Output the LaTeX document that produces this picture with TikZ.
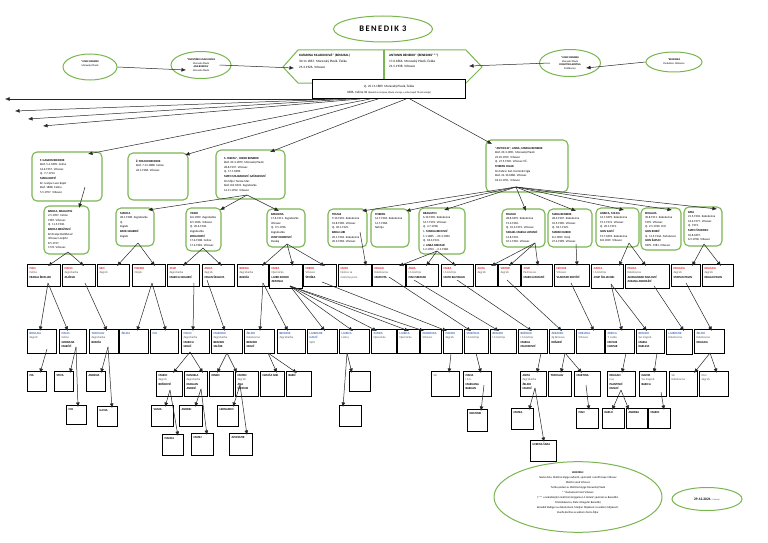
\documentclass[tikz,border=0pt]{standalone}
\usepackage{fontspec}
\setmainfont{Carlito}
\usetikzlibrary{shapes.geometric,arrows.meta}
\definecolor{gline}{RGB}{122,182,80}
\definecolor{nred}{RGB}{235,30,30}
\definecolor{nblue}{RGB}{68,114,196}
\definecolor{ngray}{RGB}{85,85,85}
\newcommand\boxfont{\fontsize{3.0}{4.6}\selectfont}
\newcommand\xrn[1]{{\color{nred}\bfseries #1}}
\newcommand\xbn[1]{{\color{nblue}\bfseries #1}}
\newcommand\xpl[1]{{\color{ngray}#1}}
\newcommand\xsp[1]{{\bfseries #1}}
% name, style, x1, y1, x2, y2, left inset, first baseline, text
\newcommand\bx[9]{\node[#2,anchor=north west,inner sep=0pt,outer sep=0pt] (#1) at (#3,#4)
 {\parbox[c][\dimexpr#6pt-#4pt\relax][t]{\dimexpr#5pt-#3pt\relax}{\boxfont\raggedright\leftskip=#7pt\relax\rule{0pt}{#8pt}#9\par}};}
\newcommand\ar[5]{\draw[arr] ([xshift=#2pt,yshift=#3pt]#1.south west) -- ([xshift=#5pt,yshift=-2pt]#4.north west);}
\tikzset{
 bbox/.style={draw=black,line width=1pt,fill=white},
 gbox/.style={draw=gline,line width=1.1pt,rounded corners=5pt,fill=white},
 gell/.style={ellipse,draw=gline,line width=1pt,inner sep=0pt,fill=white},
 arr/.style={-{Latex[length=4.5pt,width=3.8pt]},line width=0.5pt,draw=black!85},
 tiny/.style={font=\fontsize{2.6}{3.6}\selectfont,align=center}
}
\begin{document}
\begin{tikzpicture}[x=1pt,y=-1pt]
\useasboundingbox (0,0) rectangle (768,543);
\fill[white] (0,0) rectangle (768,543);
% title
\node[gell,minimum width=99pt,minimum height=26pt,font=\bfseries\fontsize{8.5}{10}\selectfont] (title) at (383,29) {B\,E\,N\,E\,D\,I\,K\, 3};
% ancestors
\node[gell,tiny,minimum width=54pt,minimum height=26pt] (e1) at (90,67) {\textbf{*JOSEF BENEDIK}\\Moravský Plavík\\[3pt]};
\node[gell,tiny,minimum width=60pt,minimum height=27pt] (e2) at (201,65) {\textbf{*FRANTIŠEK MLADUNOVA}\\Moravski Plavík\\\textbf{ANA BUBICEV}\\Moravski Plavík};
\node[gell,tiny,minimum width=61pt,minimum height=27pt] (e3) at (570,63) {\textbf{*JOSEF BENEDIK}\\Moravski Plavík\\\textbf{FRANTIŠKA BOŽINA}\\Poličkovice};
\node[gell,tiny,minimum width=56pt,minimum height=20pt] (e4) at (674,62) {\textbf{*BENEDIKA}\\Pardubice, Mikovice};
% couple hexagon
\draw[draw=gline,line width=1pt,fill=white] (283,67) -- (298,50) -- (466,50) -- (482,67) -- (466,83) -- (298,83) -- cycle;
\draw[draw=gline,line width=1.3pt] (384,50) -- (384,80);
\node[anchor=north west,inner sep=0pt,align=left,font=\fontsize{3.3}{5.6}\selectfont] (hexL) at (299,54)
 {\textbf{KATARINA MLADUNOVÁ* (BENURAL)}\\30.11.1867. Moravský Plavík, Češka\\25.3.1926. Vrbovec};
\node[anchor=north west,inner sep=0pt,align=left,font=\fontsize{3.3}{5.6}\selectfont] (hexR) at (389,54)
 {\textbf{ANTONIN BENEDIK* (BENEDIKS***)}\\17.6.1866. Moravský Plavík, Češka\\21.5.1938. Vrbovec};
\coordinate (hexLin) at (294,68);
\coordinate (hexRin) at (469,66);
\coordinate (e2in) at (186,70);
\coordinate (e3in) at (586,68);
\node[bbox,anchor=north west,minimum width=153pt,minimum height=19pt,inner sep=0pt,align=center,font=\fontsize{3.2}{6}\selectfont] (mar) at (312,79)
 {Vj. 25.11.1889. Moravský Plavík, Češka\\1886. Celine 32 {\fontsize{2.5}{4}\selectfont (doselili su iz Ajeva, Kloda, s konja, s roba, kupili 70 rali zemlje)}};
% off-picture children
\coordinate (offA) at (5,99);
\coordinate (offB) at (15,111);
\coordinate (offC) at (28,119);
\coordinate (offD) at (43,126);
% row 1
\bx{g1a}{gbox}{32}{152}{102}{201}{8}{9}{\xsp{F. GAGDIN BENEDIK}\\Rođ. 5.4.1890. Celine\\16.6.1957. Vrbovec\\Vj. 7.7.1914.\\\xsp{MARA KOPIĆ}\\Kć. Ivanjac Luce Kopić\\Rođ. 1888. Celine\\5.5.1957. Vrbovec}
\bx{g1b}{gbox}{128}{153}{188}{200}{8}{9}{\xsp{Ž. FRANJO BENEDIK}\\Rođ. 7.12.1888. Celine\\26.1.1968. Vrbovec}
\bx{g1c}{gbox}{216}{150}{285}{199}{8}{9}{\xsp{S. JOSEFA*, JOSIPA BENEDIK}\\Rođ. 20.3.1879. Moravský Plavík\\28.8.1937. Vrbovec\\Vj. 17.7.1898.\\\xsp{MATO MAJDAKOVIĆ GAŠPAROVIĆ}\\Sin Mije i Tereze Mar.\\Rođ. 8.8.1876. Zagrebačka\\14.11.1952. Vrbovec}
\bx{g1d}{gbox}{486}{140}{568}{192}{9}{9}{\xsp{*ANTONIJA*, ANNA, MARIJA BENEDIK}\\Rođ. 20.3.1891. Moravský Plavík\\22.10.1959. Vrbovec\\Vj. 27.5.1905. Vrbovec VČ.\\\xsp{STJEPAN CIGAK}\\Sin Fabra i Kat. Dominik Cigla\\Rođ. 24.10.1880. Vrbovec\\18.12.1951. Vrbovec}
% row 2
\bx{g2a}{gbox}{44}{206}{89}{254}{4}{6}{\xsp{BARICA, DRAGUTIN}\\2.5.1907. Celine\\1987. Vrbovec\\Vj. 11.5.1930.\\\xsp{BARICA BROŽOVIĆ}\\Kći Franje Božičković\\Vrbovec Lonjički\\8.5.1917.\\1776. Vrbovec}
\bx{g2b}{gbox}{116}{208}{154}{246}{4}{6}{\xsp{MARICA}\\28.1.1908. Zagrebačka\\Vj.\\Zagreb\\\xsp{RADE GRABRIĆ}\\Zagreb}
\bx{g2c}{gbox}{186}{208}{221}{251}{4}{6}{\xsp{VINKO}\\8.6.1909. Zagrebačka\\8.5.1966. Vrbovec\\Vj. 20.6.1936.\\Zagrebačka\\\xsp{ZORA KOPIĆ}\\17.6.1908. Celine\\17.2.1981. Vrbovec}
\bx{g2d}{gbox}{267}{209}{305}{247}{4}{6}{\xsp{KATARINA}\\17.6.1911. Zagrebačka\\Vrbovec\\Vj. 9.5.1936.\\Zagrebačka\\\xsp{JOSIP DUBROVIĆ}\\Dvokaj}
\bx{g2e}{gbox}{328}{209}{367}{247}{4}{6}{\xsp{TOMAS}\\9.10.1901. Kokotovina\\10.8.1989. Vrbovec\\Vj. 20.1.1925.\\\xsp{BARA LUBI}\\20.1.1903. Kokotovina\\20.3.1983. Vrbovec}
\bx{g2f}{gbox}{371}{209}{409}{247}{4}{6}{\xsp{STJEPAN}\\16.7.1903. Kokotovina\\14.7.1968.\\Nehrija}
\bx{g2g}{gbox}{419}{208}{465}{254}{4}{6}{\xsp{DRAGUTIN}\\6.10.1905. Kokotovina\\16.7.1993. Vrbovec\\Vj. 4.7.1938.\\1. \xsp{MARIJA BENOVIĆ}\\1.1.1885. -- 20.3.1983.\\Vj. 18.3.1931.\\2. \xsp{ANKA SREMAR}\\1.2.1903. -- 2.1.1986.}
\bx{g2h}{gbox}{502}{209}{545}{247}{4}{6}{\xsp{FRANJO}\\28.8.1895. Kokotovina\\19.3.1965.\\Vj. 10.3.1919. Vrbovec\\\xsp{MIHAEL MARIJA LOTANIĆ}\\14.8.1901.\\10.1.1965. Vrbovec}
\bx{g2i}{gbox}{548}{209}{592}{247}{4}{6}{\xsp{MARA BENEDIK}\\28.3.1907. Kokotovina\\10.5.1985. Vrbovec\\Vj. 18.7.1925.\\\xsp{MARKO KUBER}\\8.4.1899. Ozalj\\27.4.1989. Vrbovec}
\bx{g2j}{gbox}{596}{208}{639}{247}{4}{6}{\xsp{ANKICA, MILICA}\\16.7.1899. Kokotovina\\19.1.1974. Vrbovec\\Vj. 20.1.1919.\\\xsp{IVAN SAVIĆ}\\19.7.1893. Kokotovina\\8.8.1969. Vrbovec}
\bx{g2k}{gbox}{641}{208}{681}{250}{4}{6}{\xsp{ROSALIJA}\\30.8.1911. Kokotovina\\1995. Vrbovec\\Vj. 2.5.1930. Križ\\\xsp{IVAN BOBIĆ}\\Vj. 12.5.1946. Farkaševac\\\xsp{IVAN ŠAPUN}\\1899. 1981. Vrbovec}
\bx{g2l}{gbox}{684}{207}{722}{246}{4}{6}{\xsp{KATA}\\21.5.1902. Kokotovina\\16.2.1977. Vrbovec\\Vj. 1919.\\\xsp{MATO ŠTURMEC}\\10.8.1897.\\6.9.1958. Vrbovec}
% row 3
\bx{r3a}{bbox}{27}{264}{60}{286}{2.5}{5}{\xrn{IVAN}\\\xpl{Celine}\\\xsp{FRANJA ŽEMLJAK}}
\bx{r3b}{bbox}{62}{264}{95}{286}{2.5}{5}{\xrn{IVANO}\\\xpl{Zagrebačka}\\\xsp{ZAJČEVA}}
\bx{r3c}{bbox}{97}{264}{129}{286}{2.5}{5}{\xrn{ERO}\\\xpl{Zagreb}}
\bx{r3d}{bbox}{132}{264}{165}{286}{2.5}{5}{\xrn{IVANKO}\\\xpl{Osijek}}
\bx{r3e}{bbox}{167}{264}{199}{286}{2.5}{5}{\xrn{JOSIP}\\\xpl{Zagrebačka}\\\xsp{MARICA GRGURIĆ}}
\bx{r3f}{bbox}{202}{264}{234}{286}{2.5}{5}{\xrn{ANICA}\\\xpl{Zagreb}\\\xsp{MILAN ŠEGULTA}}
\bx{r3g}{bbox}{237}{264}{268}{286}{2.5}{5}{\xrn{BORISA}\\\xpl{Zagrebačka}\\\xsp{BUĐIĆA}}
\bx{r3h}{bbox}{269}{264}{302}{288}{2.5}{5}{\xrn{MARA}\\\xpl{Njemačka}\\\xsp{LJUBO BOCKO}\\\xsp{ZIMONJA}}
\bx{r3i}{bbox}{303}{264}{336}{286}{2.5}{5}{\xrn{MIRKO}\\\xpl{Vrbovec}\\\xsp{ŠPOŠKA}}
\bx{r3j}{bbox}{338}{264}{371}{286}{2.5}{5}{\xrn{MATO}\\\xpl{Nemce za}\\\xpl{možemo poro}}
\bx{r3k}{bbox}{372}{264}{405}{286}{2.5}{5}{\xrn{DRAGO}\\\xpl{Kokotovina}\\\xsp{MAMOTA}}
\bx{r3l}{bbox}{406}{264}{438}{286}{2.5}{5}{\xrn{ANKA}\\\xpl{I.S.Andrija}\\\xsp{IVAN SREMAR}}
\bx{r3m}{bbox}{441}{264}{473}{286}{2.5}{5}{\xrn{MARA}\\\xpl{I.S.Andrija}\\\xsp{MATO BAJTAKAN}}
\bx{r3n}{bbox}{475}{264}{497}{286}{2.5}{5}{\xrn{ZLATA}\\\xpl{Zagreb}}
\bx{r3o}{bbox}{498}{264}{520}{286}{2.5}{5}{\xrn{VIKTOR}\\\xpl{Zagreb}}
\bx{r3p}{bbox}{521}{264}{552}{286}{2.5}{5}{\xrn{JOSIP}\\\xpl{Pavlinovac}\\\xsp{MARICA RUSMIĆ}}
\bx{r3q}{bbox}{554}{264}{589}{286}{2.5}{5}{\xrn{HRVOJE}\\\xpl{Vrbovec}\\\xsp{VLADIMIR KOPIČIĆ}}
\bx{r3r}{bbox}{591}{264}{623}{288}{2.5}{5}{\xrn{JURICA}\\\xpl{I.S.Andrija}\\\xsp{JOSIP ŠOLJANSKI}}
\bx{r3s}{bbox}{625}{264}{669}{288}{2.5}{5}{\xrn{PAVICA}\\\xpl{Kokotovina}\\\xsp{ALEKSANDAR PAVLOVIĆ}\\\xsp{ZUZANA ANDRAŠIĆ}}
\bx{r3t}{bbox}{671}{264}{700}{286}{2.5}{5}{\xrn{DRAGICA}\\\xpl{Zagreb}\\\xsp{STJEPAN PAVIN}}
\bx{r3u}{bbox}{702}{264}{733}{286}{2.5}{5}{\xrn{DRAGICA}\\\xpl{Zagreb}\\\xsp{DRAGO PAVIN}}
% row 4
\bx{r4a}{bbox}{27}{329}{56}{353}{2.5}{5}{\xbn{BOSILJKA}\\\xpl{Zagreb}}
\bx{r4b}{bbox}{59}{329}{86}{353}{2.5}{5}{\xbn{IVANO}\\\xpl{Celine}\\\xsp{GORDANA}\\\xsp{MARČIĆ}}
\bx{r4c}{bbox}{89}{329}{118}{353}{2.5}{5}{\xbn{TOMISLAV}\\\xpl{Zagrebačka}\\\xsp{BUĐIĆA}}
\bx{r4d}{bbox}{119}{329}{148}{353}{2.5}{5}{\xbn{ŽELJKA}}
\bx{r4e}{bbox}{150}{329}{178}{353}{2.5}{5}{\xbn{IVO}}
\bx{r4f}{bbox}{181}{329}{209}{353}{2.5}{5}{\xbn{IVANO}\\\xpl{Zagrebačka}\\\xsp{MARICA}\\\xsp{GRGIĆ}}
\bx{r4g}{bbox}{211}{329}{242}{353}{2.5}{5}{\xbn{MARINKO}\\\xpl{Zagrebačka}\\\xsp{BRANKO}\\\xsp{SALČEK}}
\bx{r4h}{bbox}{244}{329}{274}{353}{2.5}{5}{\xbn{ŽELJKO}\\\xpl{Kokotovina}\\\xsp{BRANKO}\\\xsp{GRGIĆ}}
\bx{r4i}{bbox}{277}{329}{305}{353}{2.5}{5}{\xbn{BENEDIK}\\\xpl{Zagrebačka}}
\bx{r4j}{bbox}{307}{329}{337}{353}{2.5}{5}{\xbn{LJUBOMIR}\\\xbn{LUKAČ}\\\xpl{Split}}
\bx{r4k}{bbox}{339}{329}{369}{353}{2.5}{5}{\xbn{LJUBICA}\\\xpl{Lošinj}}
\bx{r4l}{bbox}{371}{329}{396}{353}{2.5}{5}{\xbn{Z.MIRA}\\\xpl{Njemačka}}
\bx{r4m}{bbox}{397}{329}{419}{353}{2.5}{5}{\xbn{LJUBICA}\\\xpl{Njemačka}}
\bx{r4n}{bbox}{420}{329}{441}{353}{2.5}{5}{\xbn{DUBRAVKA}\\\xpl{Vrbovec}}
\bx{r4o}{bbox}{443}{329}{462}{353}{2.5}{5}{\xbn{IVANKO}\\\xpl{Zagreb}}
\bx{r4p}{bbox}{464}{329}{488}{353}{2.5}{5}{\xbn{SNJEŽANA}\\\xpl{I.S.Andrija}}
\bx{r4q}{bbox}{490}{329}{516}{353}{2.5}{5}{\xbn{BRANKO}\\\xpl{I.S.Andrija}}
\bx{r4r}{bbox}{518}{329}{547}{353}{2.5}{5}{\xbn{BOŽIDAR}\\\xpl{I.S.Andrija}\\\xsp{MARIJA}\\\xsp{MAJOROVIĆ}}
\bx{r4s}{bbox}{549}{329}{574}{353}{2.5}{5}{\xbn{ZDRAVKO}\\\xpl{Zg.Brezovo}\\\xsp{KOŠARIĆ}}
\bx{r4t}{bbox}{576}{329}{604}{353}{2.5}{5}{\xbn{MIRJANA}\\\xpl{Vrbovec}}
\bx{r4u}{bbox}{605}{329}{634}{353}{2.5}{5}{\xbn{ZORICA}\\\xpl{T. Lučko}\\\xsp{HRVOJE}\\\xsp{HASPAR}}
\bx{r4v}{bbox}{636}{329}{664}{353}{2.5}{5}{\xbn{BRANKO}\\\xpl{Sv.I.Zagreb}\\\xsp{MARIA}\\\xsp{KARLINA}}
\bx{r4w}{bbox}{666}{329}{692}{354}{2.5}{5}{\xbn{LJUBOMIR}\\\xpl{Kokotovina}}
\bx{r4x}{bbox}{694}{329}{724}{353}{2.5}{5}{\xbn{ŽELJKO}\\\xpl{Kokotovina}\\\xsp{DRAGICA}}
% row 5
\bx{r5a}{bbox}{27}{371}{46}{391}{2.5}{5}{\xsp{IVA}}
\bx{r5b}{bbox}{54}{371}{73}{391}{2.5}{5}{\xsp{STIVA}}
\bx{r5c}{bbox}{86}{371}{105}{391}{2.5}{5}{\xsp{ANDRIJA}}
\bx{r5d}{bbox}{156}{371}{182}{396}{2.5}{5}{\xsp{MARIO}\\\xpl{Zagreb}\\\xsp{BOŠKOVIĆ}}
\bx{r5e}{bbox}{184}{371}{207}{396}{2.5}{5}{\xsp{DANIJELA}\\\xpl{Zagrebačka}\\\xsp{DUBLJAN}\\\xsp{ANDRIĆ}}
\bx{r5f}{bbox}{209}{371}{233}{396}{2.5}{5}{\xsp{DINKO}}
\bx{r5g}{bbox}{235}{371}{258}{396}{2.5}{5}{\xsp{MATKO}\\\xpl{Zagreb}\\\xsp{ANA}\\\xsp{ŠANDOR}}
\bx{r5h}{bbox}{260}{371}{284}{396}{2.5}{5}{\xsp{NATAŠA NIKI}}
\bx{r5i}{bbox}{286}{371}{311}{396}{2.5}{5}{\xsp{BABIĆ}}
\bx{r5j}{bbox}{349}{371}{370}{391}{2.5}{5}{}
\bx{r5k}{bbox}{431}{371}{459}{396}{2.5}{5}{\xpl{Sin}}
\bx{r5l}{bbox}{463}{371}{491}{396}{2.5}{5}{\xsp{IVANA}\\\xpl{I.S.A.}\\\xsp{MARIJANA}\\\xsp{BABIJAN}}
\bx{r5m}{bbox}{520}{371}{546}{396}{2.5}{5}{\xsp{ANITA}\\\xpl{Zagrebačka}\\\xsp{ŽELJKO}\\\xsp{MAMIĆ}}
\bx{r5n}{bbox}{548}{371}{571}{396}{2.5}{5}{\xsp{TOMISLAV}}
\bx{r5o}{bbox}{574}{371}{600}{396}{2.5}{5}{\xsp{MARTINA}}
\bx{r5p}{bbox}{607}{371}{635}{396}{2.5}{5}{\xsp{DRAGAN}\\\xpl{Ivaj}\\\xsp{PLANTINIĆ}\\\xsp{DUNJIĆ}}
\bx{r5q}{bbox}{639}{371}{666}{396}{2.5}{5}{\xsp{DAVOR}\\\xpl{Sv.I.Zagreb}\\\xsp{BARICA}}
\bx{r5r}{bbox}{669}{371}{697}{396}{2.5}{5}{\xpl{Sin}\\\xpl{Kokotovina}}
\bx{r5s}{bbox}{699}{371}{728}{396}{2.5}{5}{\xpl{Kćer}\\\xpl{Zagreb}}
% row 6
\bx{r6a}{bbox}{66}{405}{86}{424}{2.5}{5}{\xsp{IVO}}
\bx{r6b}{bbox}{97}{406}{117}{426}{2.5}{5}{\xsp{LUCIJA}}
\bx{r6c}{bbox}{151}{405}{173}{426}{2.5}{5}{\xsp{VANJA}}
\bx{r6d}{bbox}{179}{405}{202}{426}{2.5}{5}{\xsp{ANDREJ}}
\bx{r6e}{bbox}{217}{405}{238}{426}{2.5}{5}{\xsp{LEONARDO}}
\bx{r6f}{bbox}{339}{405}{361}{426}{2.5}{5}{}
\bx{r6g}{bbox}{467}{409}{487}{431}{2.5}{5}{\xsp{DOMINIK}}
\bx{r6h}{bbox}{511}{408}{533}{429}{2.5}{5}{\xsp{MATEA}}
\bx{r6i}{bbox}{576}{408}{598}{428}{2.5}{5}{\xsp{IVAN}}
\bx{r6j}{bbox}{602}{408}{624}{428}{2.5}{5}{\xsp{KARLO}}
\bx{r6k}{bbox}{626}{408}{647}{428}{2.5}{5}{\xsp{ANDREA}}
\bx{r6l}{bbox}{648}{408}{670}{428}{2.5}{5}{\xsp{MARIO}}
% row 7
\bx{r7a}{bbox}{162}{434}{183}{455}{2.5}{5}{\xsp{IVANKA}}
\bx{r7b}{bbox}{191}{433}{213}{455}{2.5}{5}{\xsp{MATEJ}}
\bx{r7c}{bbox}{229}{433}{252}{455}{2.5}{5}{\xsp{ZVONIMIR}}
\bx{r7d}{bbox}{530}{440}{556}{461}{2.5}{5}{\xsp{LORENA ŠARA}}
% legend and date
\node[gell,minimum width=168pt,minimum height=67pt,align=center,font=\fontsize{2.8}{4.9}\selectfont] (leg) at (578,497)
 {\textbf{LEGENDA:}\\Nazivi dola, Matične knjige rođenih, vjenčanih i umrlih župe Vrbovec\\Matični ured Vrbovec\\Tvrtka podaci su Matične knjige Moravský Plavík\\** Rodoslovni fond Vrbovec\\(*** u nekadašnjim matičnim knjigama J.F. Kolarić vjenčani su Benedikt,\\Mala Bukovica, Zlata i Dragutin Benedik)\\Benedik Rudiger su dekaly Đurk, Marijan Mijaković sa sektom Mijaković,\\Đurđa Karlina sa sektom Zorica Šiljar\\[4pt]};
\node[gell,minimum width=70pt,minimum height=23pt,font=\fontsize{3.6}{4}\selectfont] (date) at (707,499)
 {\textbf{29.12.2021.} {\fontsize{2.2}{3}\selectfont\color{ngray}(datum)}};
% ancestor arrows
\draw[arr] (e1.east) -- (e2in);
\draw[arr] ([xshift=-12pt]e2.east) -- (hexLin);
\draw[arr] ([xshift=11pt]e3.west) -- (hexRin);
\draw[arr] (e4.west) -- (e3in);
% marriage to children
\draw[arr] ([xshift=13pt]mar.south west) -- (offA);
\draw[arr] ([xshift=28pt]mar.south west) -- (offB);
\draw[arr] ([xshift=38pt]mar.south west) -- (offC);
\draw[arr] ([xshift=48pt]mar.south west) -- (offD);
\ar{mar}{58}{0}{g1a}{56}
\ar{mar}{66}{0}{g1b}{57}
\ar{mar}{94}{0}{g1c}{54}
\draw[arr] ([xshift=98pt]mar.south west) -- ([xshift=6pt,yshift=-4pt]g1d.north west);
% row1 -> row2
\ar{g1a}{53}{14}{g2a}{35}
\ar{g1c}{31}{4}{g2b}{32}
\ar{g1c}{31}{4}{g2c}{34}
\ar{g1c}{31}{4}{g2d}{12}
\ar{g1d}{30}{5}{g2e}{34}
\ar{g1d}{30}{5}{g2f}{35}
\ar{g1d}{30}{5}{g2g}{25}
\ar{g1d}{30}{5}{g2h}{24}
\ar{g1d}{30}{5}{g2i}{28}
\ar{g1d}{30}{5}{g2j}{28}
\ar{g1d}{30}{5}{g2k}{31}
\ar{g1d}{30}{5}{g2l}{33}
% row2 -> row3
\ar{g2a}{24}{2}{r3a}{21}
\ar{g2a}{24}{2}{r3b}{22}
\ar{g2b}{22}{3}{r3c}{20}
\ar{g2b}{22}{3}{r3d}{23}
\ar{g2c}{17}{3}{r3e}{16}
\ar{g2c}{17}{3}{r3f}{20}
\ar{g2d}{20}{3}{r3g}{25}
\ar{g2d}{20}{3}{r3h}{24}
\ar{g2d}{20}{3}{r3i}{22}
\ar{g2e}{32}{15}{r3j}{28}
\ar{g2g}{18}{3}{r3k}{27}
\ar{g2g}{18}{3}{r3l}{20}
\ar{g2g}{18}{3}{r3m}{15}
\ar{g2h}{33}{4}{r3n}{16}
\ar{g2h}{33}{4}{r3o}{11}
\ar{g2h}{33}{4}{r3p}{17}
\ar{g2i}{28}{3}{r3q}{23}
\ar{g2j}{33}{4}{r3r}{28}
\ar{g2j}{33}{4}{r3s}{21}
\ar{g2l}{20}{2}{r3t}{21}
\ar{g2l}{20}{2}{r3u}{19}
% row3 -> row4
\ar{r3a}{21}{3}{r4a}{13}
\ar{r3a}{21}{3}{r4b}{9}
\ar{r3b}{23}{3}{r4c}{18}
\ar{r3d}{20}{3}{r4d}{18}
\ar{r3d}{20}{3}{r4e}{16}
\ar{r3e}{27}{3}{r4f}{12}
\ar{r3f}{5}{6}{r4g}{14}
\ar{r3g}{26}{3}{r4h}{16}
\ar{r3g}{26}{3}{r4i}{11}
\ar{r3h}{21}{2}{r4j}{18}
\ar{r3h}{21}{2}{r4k}{14}
\ar{r3h}{21}{2}{r4l}{6}
\ar{r3h}{21}{2}{r4m}{12}
\ar{r3h}{21}{2}{r4n}{4}
\ar{r3i}{19}{4}{r4o}{4}
\ar{r3k}{17}{9}{r4p}{7}
\ar{r3l}{8}{6}{r4q}{9}
\ar{r3m}{16}{6}{r4r}{14}
\ar{r3o}{9}{6}{r4s}{13}
\ar{r3q}{17}{3}{r4t}{18}
\ar{r3r}{20}{4}{r4u}{17}
\ar{r3r}{20}{4}{r4v}{11}
\ar{r3s}{29}{2}{r4w}{18}
\ar{r3t}{15}{3}{r4x}{18}
% row4 -> row5/6
\ar{r4a}{20}{4}{r5a}{13}
\ar{r4b}{17}{6}{r5b}{16}
\ar{r4b}{17}{6}{r6a}{12}
\ar{r4c}{19}{6}{r5c}{15}
\ar{r4c}{19}{6}{r6b}{15}
\ar{r4f}{9}{1}{r5d}{17}
\ar{r4f}{9}{1}{r5e}{19}
\ar{r4g}{16}{0}{r5f}{8}
\ar{r4g}{16}{0}{r5g}{2}
\ar{r4h}{24}{0}{r5h}{17}
\ar{r4h}{24}{0}{r5i}{11}
\ar{r4k}{8}{0}{r5j}{3}
\ar{r4k}{8}{0}{r6f}{4}
\ar{r4o}{8}{0}{r5k}{18}
\ar{r4p}{12}{0}{r5l}{18}
\ar{r4r}{23}{0}{r5m}{17}
\ar{r4s}{16}{0}{r5n}{13}
\ar{r4s}{16}{0}{r5o}{8}
\ar{r4u}{21}{0}{r5p}{15}
\ar{r4v}{21}{0}{r5q}{15}
\ar{r4x}{16}{0}{r5r}{25}
\ar{r4x}{16}{0}{r5s}{18}
% row5 -> row6/7
\ar{r5d}{14}{6}{r6c}{14}
\ar{r5d}{14}{6}{r7a}{16}
\ar{r5e}{17}{7}{r6d}{16}
\ar{r5e}{17}{7}{r7b}{16}
\ar{r5g}{5}{11}{r6e}{16}
\ar{r5g}{5}{11}{r7c}{18}
\ar{r5l}{21}{11}{r6g}{14}
\ar{r5m}{15}{8}{r6h}{18}
\ar{r5m}{15}{8}{r7d}{14}
\ar{r5o}{12}{11}{r6i}{13}
\ar{r5p}{14}{6}{r6j}{10}
\ar{r5p}{14}{6}{r6k}{3}
\ar{r5q}{22}{4}{r6l}{16}
\end{tikzpicture}
\end{document}
